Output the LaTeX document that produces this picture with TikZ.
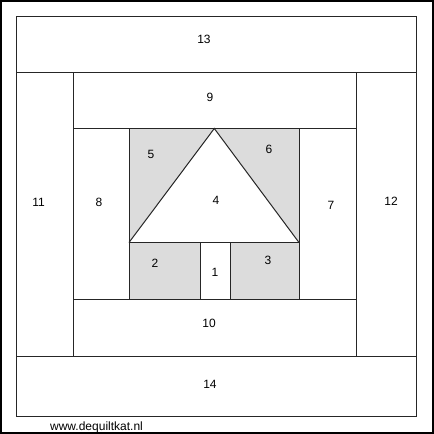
\documentclass[tikz,border=0pt]{standalone}
\usepackage{fontspec}
\setmainfont{Liberation Sans}
\definecolor{patchgray}{RGB}{220,220,220}
\begin{document}
\begin{tikzpicture}[x=1pt,y=-1pt,
  seam/.style={draw=black!85,line width=1pt},
  shaded/.style={fill=patchgray},
  num/.style={inner sep=0pt,font=\fontsize{12}{14}\selectfont}]
\useasboundingbox (0,0) rectangle (434,434);
\fill[white] (0,0) rectangle (434,434);
% shaded patches
\fill[shaded] (129,128.5) -- (214.3,128.5) -- (129,242.5) -- cycle;
\fill[shaded] (214.3,128.5) -- (299,128.5) -- (299,242.5) -- cycle;
\fill[shaded] (129,242.5) rectangle (200.5,299);
\fill[shaded] (230,242.5) rectangle (299,299);
% outer frame
\draw[line width=1.4pt] (1,1) rectangle (433,433);
% block outline
\draw[seam] (16.5,16.5) rectangle (416.5,416.5);
% rounds
\draw[seam] (16.5,72.5) -- (416.5,72.5);
\draw[seam] (16.5,356.5) -- (416.5,356.5);
\draw[seam] (73,72.5) -- (73,356.5);
\draw[seam] (356.5,72.5) -- (356.5,356.5);
\draw[seam] (73,128.5) -- (356.5,128.5);
\draw[seam] (73,299) -- (356.5,299);
\draw[seam] (129,128.5) -- (129,299);
\draw[seam] (299,128.5) -- (299,299);
% centre
\draw[seam] (129,242.5) -- (299,242.5);
\draw[seam] (129,242.5) -- (214.3,128.5) -- (299,242.5);
\draw[seam] (200.5,242.5) -- (200.5,299);
\draw[seam] (230,242.5) -- (230,299);
% labels
\node[num] (n13) at (204,39) {13};
\node[num] (n9) at (210,97) {9};
\node[num] (n11) at (38.5,202) {11};
\node[num] (n8) at (99,202) {8};
\node[num] (n5) at (151,154.5) {5};
\node[num] (n6) at (269,149) {6};
\node[num] (n4) at (216,200.5) {4};
\node[num] (n7) at (331,205) {7};
\node[num] (n12) at (391,201) {12};
\node[num] (n2) at (155,263) {2};
\node[num] (n1) at (215,272) {1};
\node[num] (n3) at (268,260) {3};
\node[num] (n10) at (209,323) {10};
\node[num] (n14) at (210,384) {14};
\node[num] (www) at (96.5,427) {www.dequiltkat.nl};
\end{tikzpicture}
\end{document}
